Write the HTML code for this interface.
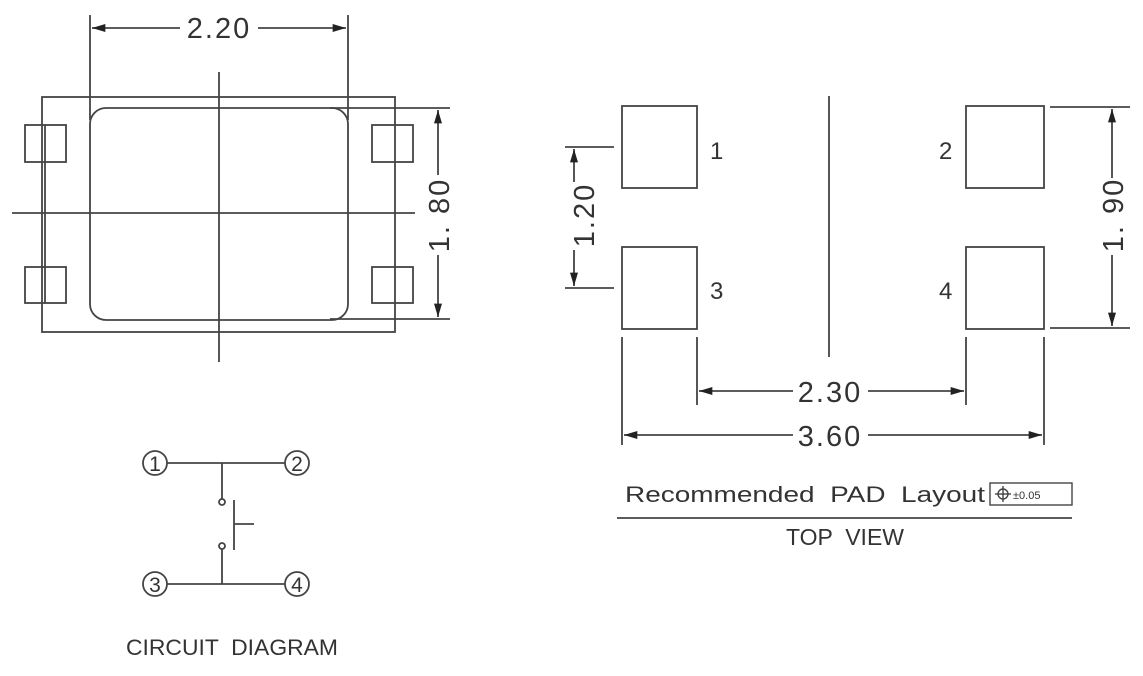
<!DOCTYPE html>
<html><head><meta charset="utf-8"><style>
html,body{margin:0;padding:0;background:#fff}
svg{display:block}
text{font-family:"Liberation Sans",sans-serif;fill:#333}
</style></head><body>
<svg width="1143" height="676" viewBox="0 0 1143 676" xmlns="http://www.w3.org/2000/svg">
<defs>
<marker id="a" viewBox="0 0 10 6" refX="10" refY="3" markerWidth="20" markerHeight="8" markerUnits="userSpaceOnUse" orient="auto-start-reverse"><path d="M0,0L10,3L0,6z" fill="#222"/></marker>
</defs>
<g stroke="#444" stroke-width="1.8" fill="none">
<rect x="42" y="97" width="353" height="235"/>
<line x1="45" y1="125" x2="45" y2="303"/>
<rect x="90" y="108" width="258" height="212" rx="16"/>
<line x1="219" y1="72" x2="219" y2="362"/>
<line x1="12" y1="213" x2="415" y2="213"/>
<rect x="25" y="125" width="41" height="37"/>
<rect x="25" y="267" width="41" height="36"/>
<rect x="372" y="125" width="41" height="37"/>
<rect x="372" y="267" width="41" height="36"/>
<line x1="90" y1="15" x2="90" y2="120"/>
<line x1="348" y1="15" x2="348" y2="120"/>
<line x1="92" y1="28" x2="180" y2="28" marker-start="url(#a)"/>
<line x1="258" y1="28" x2="346" y2="28" marker-end="url(#a)"/>
<line x1="330" y1="108" x2="450" y2="108"/>
<line x1="330" y1="319" x2="450" y2="319"/>
<line x1="438" y1="110" x2="438" y2="175" marker-start="url(#a)"/>
<line x1="438" y1="255" x2="438" y2="317" marker-end="url(#a)"/>
<rect x="622" y="106" width="75" height="82"/>
<rect x="622" y="247" width="75" height="82"/>
<rect x="966" y="106" width="78" height="82"/>
<rect x="966" y="247" width="78" height="82"/>
<line x1="829" y1="96" x2="829" y2="357"/>
<line x1="565" y1="147" x2="614" y2="147"/>
<line x1="565" y1="288" x2="614" y2="288"/>
<line x1="574" y1="149" x2="574" y2="182" marker-start="url(#a)"/>
<line x1="574" y1="250" x2="574" y2="286" marker-end="url(#a)"/>
<line x1="1050" y1="107" x2="1130" y2="107"/>
<line x1="1050" y1="328" x2="1130" y2="328"/>
<line x1="1112" y1="109" x2="1112" y2="178" marker-start="url(#a)"/>
<line x1="1112" y1="255" x2="1112" y2="326" marker-end="url(#a)"/>
<line x1="697" y1="337" x2="697" y2="405"/>
<line x1="966" y1="337" x2="966" y2="405"/>
<line x1="699" y1="391" x2="793" y2="391" marker-start="url(#a)"/>
<line x1="868" y1="391" x2="964" y2="391" marker-end="url(#a)"/>
<line x1="622" y1="337" x2="622" y2="445"/>
<line x1="1044" y1="337" x2="1044" y2="445"/>
<line x1="624" y1="435" x2="793" y2="435" marker-start="url(#a)"/>
<line x1="868" y1="435" x2="1042" y2="435" marker-end="url(#a)"/>
<circle cx="155" cy="463" r="12"/>
<circle cx="297" cy="463" r="12"/>
<circle cx="155" cy="584" r="12"/>
<circle cx="297" cy="584" r="12"/>
<line x1="167" y1="463" x2="285" y2="463"/>
<line x1="167" y1="584" x2="285" y2="584"/>
<line x1="222" y1="463" x2="222" y2="499"/>
<circle cx="222" cy="502" r="3"/>
<circle cx="222" cy="546" r="3"/>
<line x1="222" y1="549" x2="222" y2="584"/>
<line x1="234" y1="500" x2="234" y2="550"/>
<line x1="234" y1="524" x2="254" y2="524"/>
<line x1="617" y1="518" x2="1072" y2="518"/>
<rect x="990" y="483" width="82" height="22" stroke-width="1.4"/>
<circle cx="1003" cy="494" r="5" stroke-width="1.4"/>
<line x1="995" y1="494" x2="1011" y2="494" stroke-width="1.4"/>
<line x1="1003" y1="486" x2="1003" y2="502" stroke-width="1.4"/>
</g>
<text x="219" y="38" font-size="29" text-anchor="middle" letter-spacing="2">2.20</text>
<text transform="translate(449,215) rotate(-90)" font-size="29" text-anchor="middle" letter-spacing="2">1. 80</text>
<text transform="translate(594,215) rotate(-90)" font-size="29" text-anchor="middle" letter-spacing="2">1.20</text>
<text transform="translate(1123,215) rotate(-90)" font-size="29" text-anchor="middle" letter-spacing="2">1. 90</text>
<text x="830" y="402" font-size="29" text-anchor="middle" letter-spacing="2">2.30</text>
<text x="830" y="446" font-size="29" text-anchor="middle" letter-spacing="2">3.60</text>
<text x="710" y="159" font-size="24">1</text>
<text x="710" y="299" font-size="24">3</text>
<text x="939" y="159" font-size="24">2</text>
<text x="939" y="299" font-size="24">4</text>
<text x="155" y="471" font-size="21" text-anchor="middle">1</text>
<text x="297" y="471" font-size="21" text-anchor="middle">2</text>
<text x="155" y="592" font-size="21" text-anchor="middle">3</text>
<text x="297" y="592" font-size="21" text-anchor="middle">4</text>
<text x="232" y="655" font-size="22" text-anchor="middle" textLength="212" lengthAdjust="spacingAndGlyphs" xml:space="preserve">CIRCUIT  DIAGRAM</text>
<text x="625" y="502" font-size="22" textLength="360" lengthAdjust="spacingAndGlyphs" xml:space="preserve">Recommended  PAD  Layout</text>
<text x="1013" y="499" font-size="11">±0.05</text>
<text x="845" y="545" font-size="23" text-anchor="middle" xml:space="preserve">TOP  VIEW</text>
</svg>
</body></html>
